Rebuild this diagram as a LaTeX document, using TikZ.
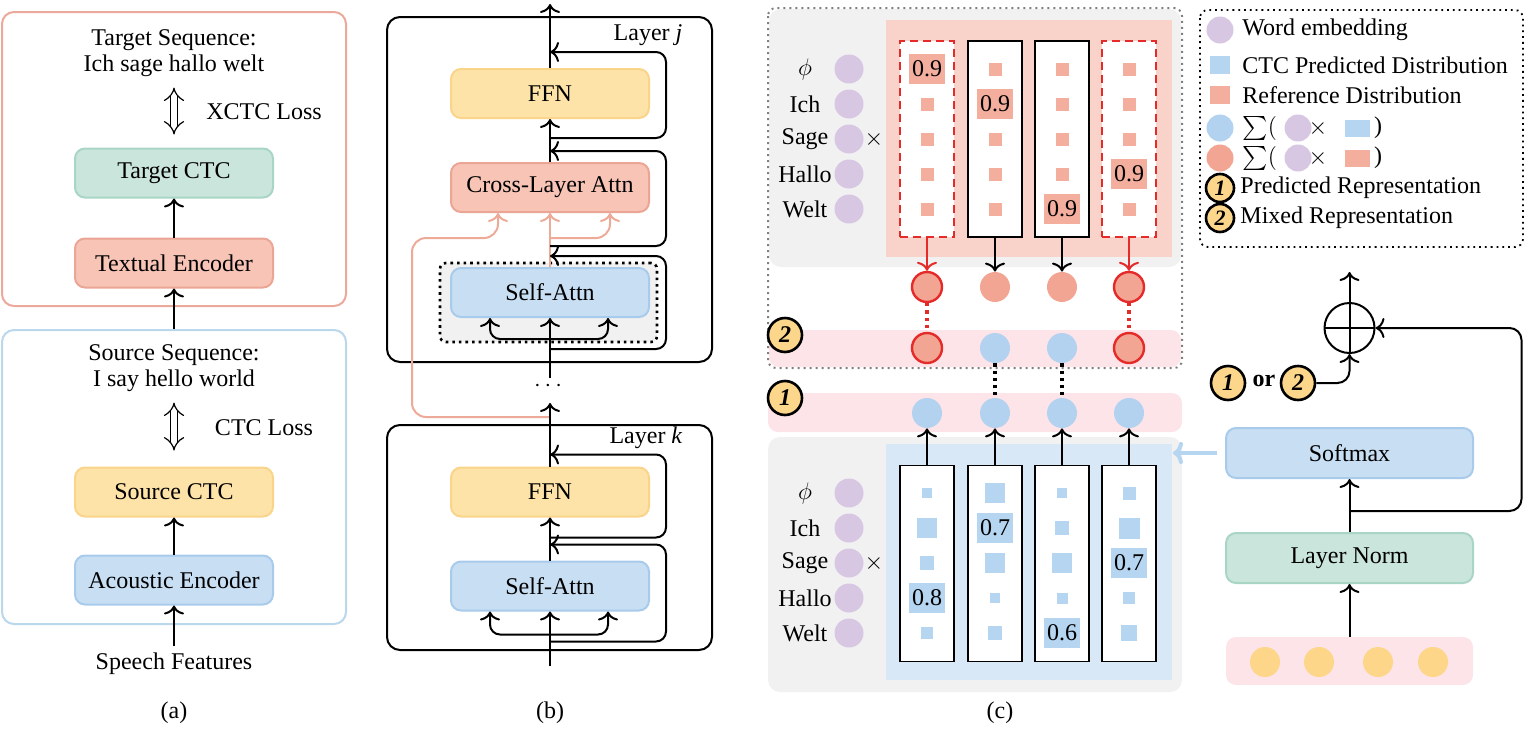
\documentclass[tikz,border=0pt]{standalone}
\usepackage{amsmath}
\usepackage{fontspec}
\setmainfont{Liberation Serif}
\usetikzlibrary{arrows.meta, positioning, calc}

\definecolor{boxred}{HTML}{F7C4B6}
\definecolor{boxredline}{HTML}{EBA595}
\definecolor{boxgreen}{HTML}{CAE5DB}
\definecolor{boxgreenline}{HTML}{A9D5C5}
\definecolor{boxyellow}{HTML}{FDE3A8}
\definecolor{boxyellowline}{HTML}{F9D48A}
\definecolor{boxblue}{HTML}{C7DEF3}
\definecolor{boxblueline}{HTML}{A9CBEB}
\definecolor{framered}{HTML}{EBA99B}
\definecolor{frameblue}{HTML}{BAD7EB}
\definecolor{pinkline}{HTML}{EEAA98}
\definecolor{graybg}{HTML}{F1F1F1}
\definecolor{refbg}{HTML}{F9D3C9}
\definecolor{predbg}{HTML}{D8E8F6}
\definecolor{sqred}{HTML}{F4AE9E}
\definecolor{sqblue}{HTML}{B5D5F0}
\definecolor{embpurple}{HTML}{D7C7E3}
\definecolor{circred}{HTML}{F2A593}
\definecolor{circblue}{HTML}{B2D2F0}
\definecolor{bandpink}{HTML}{FCE4E8}
\definecolor{badgefill}{HTML}{FCD68B}
\definecolor{yellowdot}{HTML}{FDD68A}
\definecolor{dashred}{HTML}{E52A2A}

\begin{document}
\begin{tikzpicture}[
    x=0.5pt, y=-0.5pt,
    font=\fontsize{12}{13}\selectfont,
    block/.style={draw, rounded corners=5pt, line width=1pt, minimum width=99pt,
        minimum height=24.5pt, align=center},
    redblock/.style={block, fill=boxred, draw=boxredline},
    greenblock/.style={block, fill=boxgreen, draw=boxgreenline},
    yellowblock/.style={block, fill=boxyellow, draw=boxyellowline},
    blueblock/.style={block, fill=boxblue, draw=boxblueline},
    wideblock/.style={minimum width=123.5pt, minimum height=25pt},
    panel/.style={draw, rounded corners=6pt, line width=1pt, minimum width=172pt, minimum height=147pt},
    layerbox/.style={draw, rounded corners=6.5pt, line width=1pt, minimum width=162.5pt},
    flow/.style={-{Computer Modern Rightarrow[length=4.5pt, width=10pt]}, line width=1pt},
    pinkflow/.style={flow, draw=pinkline},
    loss/.style={{Implies}-{Implies}, double, double distance=3pt, line width=0.6pt},
    column/.style={draw, line width=0.8pt, fill=white, minimum width=27pt, minimum height=98pt, inner sep=0pt},
    dashcol/.style={column, draw=dashred, dash pattern=on 4pt off 2.5pt, line width=1.2pt},
    refsq/.style={fill=sqred, minimum size=6.5pt, inner sep=0pt},
    predsq/.style={fill=sqblue, inner sep=0pt},
    refnum/.style={fill=sqred, inner sep=1.5pt, minimum height=15pt},
    prednum/.style={fill=sqblue, inner sep=1.5pt, minimum height=15pt},
    emb/.style={circle, fill=embpurple, minimum size=14.5pt, inner sep=0pt},
    dotc/.style={circle, minimum size=15pt, inner sep=0pt},
    redc/.style={dotc, fill=circred},
    redring/.style={redc, draw=dashred, line width=1.2pt},
    bluec/.style={dotc, fill=circblue},
    badge/.style={circle, draw, line width=1.3pt, fill=badgefill, minimum size=17pt, inner sep=0pt,
        font=\fontsize{12}{13}\selectfont\bfseries\itshape},
    band/.style={fill=bandpink, rounded corners=5pt},
    legend/.style={anchor=west, inner sep=0pt},
    plussign/.style={circle, draw, line width=1pt, minimum size=25pt, inner sep=0pt,
        path picture={\draw[line width=1pt] (path picture bounding box.north) -- (path picture bounding box.south)
            (path picture bounding box.west) -- (path picture bounding box.east);}}
]
\useasboundingbox (0,0) rectangle (1524,744);

% (a)
\node[panel, draw=framered] (tgtpanel) at (174,159) {};
\node[panel, draw=frameblue] (srcpanel) at (174,477) {};
\node[align=center] (tgtseq) at (174,53) {Target Sequence:\\Ich sage hallo welt};
\node (xctc) at (264,112) {XCTC Loss};
\node[greenblock] (tgtctc) at (174,173) {Target CTC};
\node[redblock] (txtenc) at (174,263) {Textual Encoder};
\node[align=center] (srcseq) at (174,368) {Source Sequence:\\I say hello world};
\node (ctcloss) at (264,428) {CTC Loss};
\node[yellowblock] (srcctc) at (174,492) {Source CTC};
\node[blueblock] (acenc) at (174,580) {Acoustic Encoder};
\node (speech) at (174,664) {Speech Features};
\node (capa) at (174,713) {(a)};
\draw[loss] ([yshift=-2pt]tgtseq.south) -- ([yshift=6.5pt]tgtctc.north);
\draw[loss] ([yshift=-2pt]srcseq.south) -- ([yshift=8pt]srcctc.north);
\draw[flow] (txtenc.north) -- (tgtctc.south);
\draw[flow] (srcpanel.north) -- (txtenc.south);
\draw[flow] (acenc.north) -- (srcctc.south);
\draw[flow] (speech.north) -- (acenc.south);

% (b)
\node[layerbox, minimum height=172.5pt] (layerj) at (549.5,189.5) {};
\node[layerbox, minimum height=112.5pt] (layerk) at (549.5,537.5) {};
\node (labj) at (648,35) {Layer \textit{j}};
\node (labk) at (646,438) {Layer \textit{k}};
\node[draw, dotted, line width=1.3pt, fill=graybg, rounded corners=3pt, minimum width=108.5pt,
    minimum height=39.5pt] (selfgrp) at (548.5,302.5) {};
\node[yellowblock] (ffnj) at (550,93.5) {FFN};
\node[redblock] (crossj) at (550,187.5) {Cross-Layer Attn};
\node[blueblock] (selfj) at (550,292.5) {Self-Attn};
\node[yellowblock] (ffnk) at (550,492) {FFN};
\node[blueblock] (selfk) at (550,586) {Self-Attn};
\node[inner sep=0pt] (dots) at (550,386) {$\cdots$};
\node (capb) at (550,713) {(b)};
\coordinate (jout) at (550,4);
\coordinate (jin) at (550,378);
\coordinate (kout) at (550,403);
\coordinate (kin) at (550,666);
\coordinate (pinkjoin) at (550,417);

\draw[pinkflow, rounded corners=7pt] (pinkjoin) -| ([xshift=-69pt, yshift=-12.5pt]crossj.south)
    -| ([xshift=-26pt]crossj.south);
\draw[pinkflow, rounded corners=7pt] ([yshift=-12.5pt]crossj.south) -| ([xshift=30pt]crossj.south);
\draw[pinkflow] (selfj.north) -- (crossj.south);
\draw[flow] (ffnj.north) -- (jout);
\draw[flow] (crossj.north) -- (ffnj.south);
\draw[flow] (jin) -- (selfj.south);
\draw[flow] (ffnk.north) -- (kout);
\draw[flow] (selfk.north) -- (ffnk.south);
\draw[flow] (kin) -- (selfk.south);
\draw[flow, rounded corners=5pt] ([yshift=-9.5pt]ffnj.south) -| ([xshift=8pt, yshift=8pt]ffnj.north east)
    -- ([yshift=8pt]ffnj.north);
\draw[flow, rounded corners=5pt] ([yshift=-16.5pt]crossj.south) -| ([xshift=8pt, yshift=5.5pt]crossj.north east)
    -- ([yshift=5.5pt]crossj.north);
\draw[flow, rounded corners=5pt] ([yshift=-15.5pt]selfj.south) -| ([xshift=8pt, yshift=5.5pt]selfj.north east)
    -- ([yshift=5.5pt]selfj.north);
\draw[flow, rounded corners=5pt] ([yshift=-10pt]ffnk.south) -| ([xshift=8pt, yshift=6pt]ffnk.north east)
    -- ([yshift=6pt]ffnk.north);
\draw[flow, rounded corners=5pt] ([yshift=-15pt]selfk.south) -| ([xshift=8pt, yshift=8pt]selfk.north east)
    -- ([yshift=8pt]selfk.north);
\draw[flow, rounded corners=5pt] ([yshift=-10.5pt]selfj.south) -| ([xshift=-30pt]selfj.south);
\draw[flow, rounded corners=5pt] ([yshift=-10.5pt]selfj.south) -| ([xshift=29pt]selfj.south);
\draw[flow, rounded corners=5pt] ([yshift=-11.5pt]selfk.south) -| ([xshift=-30pt]selfk.south);
\draw[flow, rounded corners=5pt] ([yshift=-11.5pt]selfk.south) -| ([xshift=29pt]selfk.south);

% (c)
\fill[graybg, rounded corners=6pt] (769,9) rectangle (1181,267);
\fill[refbg] (886,20) rectangle (1172,257);
\fill[band] (769,330) rectangle (1181,367);
\draw[gray, dotted, line width=1pt, rounded corners=4pt] (768,8) rectangle (1182,368);
\fill[band] (768,393) rectangle (1182,432);
\fill[graybg, rounded corners=6pt] (768,437) rectangle (1182,692);
\fill[predbg] (886,444) rectangle (1172,680);

\node[dashcol] (rcol1) at (927,139) {};
\node[column] (rcol2) at (995,139) {};
\node[column] (rcol3) at (1062,139) {};
\node[dashcol] (rcol4) at (1129,139) {};
\foreach \c/\x in {1/927,2/995,3/1062,4/1129}
    \node[column] (pcol\c) at (\x,563.5) {};

\foreach \w [count=\r] in {$\phi$,Ich,Sage,Hallo,Welt} {
    \node (wr\r) at (805,34+35*\r) {\w};
    \node[emb] (er\r) at (849,34+35*\r) {};
    \node (wp\r) at (805,458+35*\r) {\w};
    \node[emb] (ep\r) at (849,458+35*\r) {};
}
\node (timesr) at (874,139) {$\times$};
\node (timesp) at (874,563) {$\times$};

\foreach \c/\x/\hit in {1/927/1,2/995/2,3/1062/5,4/1129/4} {
    \foreach \r in {1,...,5} {
        \ifnum\r=\hit
            \node[refnum] (rv\c) at (\x,34+35*\r) {0.9};
        \else
            \node[refsq] (rs\c-\r) at (\x,34+35*\r) {};
        \fi
    }
}
\foreach \c/\x/\sizes in {1/927/{5,10,7,0,6},2/995/{10,0,10,5,7},3/1062/{5,7,10,5.5,0},4/1129/{6.5,10.5,0,6,8}} {
    \foreach \s [count=\r] in \sizes {
        \ifdim\s pt>0pt
            \node[predsq, minimum size=\s pt] (ps\c-\r) at (\x,458+35*\r) {};
        \fi
    }
}
\node[prednum] (pv1) at (927,598) {0.8};
\node[prednum] (pv2) at (995,528) {0.7};
\node[prednum] (pv3) at (1062,633) {0.6};
\node[prednum] (pv4) at (1129,563) {0.7};

\node[redring] (rr1) at (927,287) {};
\node[redc] (rr2) at (995,287) {};
\node[redc] (rr3) at (1062,287) {};
\node[redring] (rr4) at (1129,287) {};
\node[redring] (mx1) at (927,348) {};
\node[bluec] (mx2) at (995,348) {};
\node[bluec] (mx3) at (1062,348) {};
\node[redring] (mx4) at (1129,348) {};
\foreach \c/\x in {1/927,2/995,3/1062,4/1129}
    \node[bluec] (pr\c) at (\x,413) {};

\draw[flow, draw=dashred] (rcol1.south) -- (rr1.north);
\draw[flow] (rcol2.south) -- (rr2.north);
\draw[flow] (rcol3.south) -- (rr3.north);
\draw[flow, draw=dashred] (rcol4.south) -- (rr4.north);
\draw[dashred, dotted, line width=1.6pt] (rr1.south) -- (mx1.north);
\draw[dashred, dotted, line width=1.6pt] (rr4.south) -- (mx4.north);
\draw[dotted, line width=1.6pt] (mx2.south) -- (pr2.north);
\draw[dotted, line width=1.6pt] (mx3.south) -- (pr3.north);
\foreach \c in {1,...,4}
    \draw[flow] (pcol\c.north) -- (pr\c.south);

\node[badge] (bdg2) at (785,335) {2};
\node[badge] (bdg1) at (785,398) {1};
\node (capc) at (1000,713) {(c)};

% legend
\draw[dotted, line width=0.9pt, rounded corners=4pt] (1200,10) rectangle (1523,247);
\node[emb, minimum size=13.5pt] (lgemb) at (1220,30) {};
\node[legend] (lgembt) at (1242,30) {Word embedding};
\node[fill=sqblue, minimum width=10pt, minimum height=9pt, inner sep=0pt] (lgpred) at (1220,65) {};
\node[legend] (lgpredt) at (1242,65) {CTC Predicted Distribution};
\node[fill=sqred, minimum width=10pt, minimum height=9pt, inner sep=0pt] (lgref) at (1220,95) {};
\node[legend] (lgreft) at (1242,95) {Reference Distribution};
\node[bluec, minimum size=13.5pt] (lgbc) at (1220,128) {};
\node[legend] (lgbsum) at (1242,128) {$\sum($};
\node[emb, minimum size=13.5pt] (lgbe) at (1298,128) {};
\node (lgbx) at (1318,128) {$\times$};
\node[fill=sqblue, minimum width=12.5pt, minimum height=8.5pt, inner sep=0pt] (lgbs) at (1357,128) {};
\node (lgbp) at (1378,128) {)};
\node[redc, minimum size=13.5pt] (lgrc) at (1220,158) {};
\node[legend] (lgrsum) at (1242,158) {$\sum($};
\node[emb, minimum size=13.5pt] (lgre) at (1298,158) {};
\node (lgrx) at (1318,158) {$\times$};
\node[fill=sqred, minimum width=12.5pt, minimum height=8.5pt, inner sep=0pt] (lgrs) at (1357,158) {};
\node (lgrp) at (1378,158) {)};
\node[badge, minimum size=14pt, font=\fontsize{11}{12}\selectfont\bfseries\itshape] (lgb1) at (1220,188) {1};
\node[legend] (lgb1t) at (1240,188) {Predicted Representation};
\node[badge, minimum size=14pt, font=\fontsize{11}{12}\selectfont\bfseries\itshape] (lgb2) at (1220,218) {2};
\node[legend] (lgb2t) at (1240,218) {Mixed Representation};

% right column
\node[plussign] (plus) at (1349.5,328) {};
\coordinate (plusout) at (1349.5,272);
\node[badge] (or1) at (1228,383) {1};
\node[font=\fontsize{12}{13}\selectfont\bfseries] (orw) at (1264,381) {or};
\node[badge] (or2) at (1298,383) {2};
\node[blueblock, wideblock] (softmax) at (1349.5,453) {Softmax};
\node[greenblock, wideblock] (lnorm) at (1349.5,558) {Layer Norm};
\node[fill=bandpink, rounded corners=5pt, minimum width=123.5pt, minimum height=24pt] (inband) at (1349.5,661) {};
\foreach \x [count=\i] in {1265,1319,1378,1433}
    \node[dotc, fill=yellowdot] (in\i) at (\x,662) {};
\coordinate (predin) at (1173,453);

\draw[flow] (plus.north) -- (plusout);
\draw[flow, rounded corners=6pt] (or2.east) -| (plus.south);
\draw[flow] (inband.north) -- (lnorm.south);
\draw[flow] (lnorm.north) -- (softmax.south);
\draw[flow, rounded corners=6pt] ([yshift=10.5pt]lnorm.north) -| ([xshift=73pt]plus.east) -- (plus.east);
\draw[-{Computer Modern Rightarrow[length=5pt, width=11pt]}, draw=sqblue, line width=2pt]
    ([xshift=-4pt]softmax.west) -- (predin);
\end{tikzpicture}
\end{document}
